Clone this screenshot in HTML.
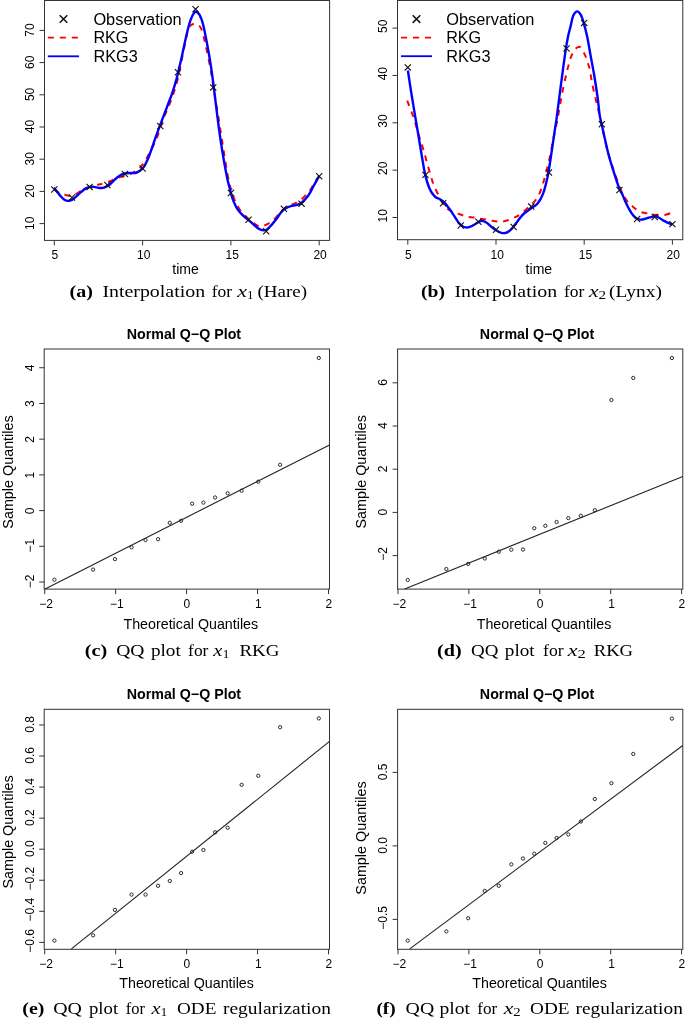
<!DOCTYPE html>
<html><head><meta charset="utf-8"><title>Figure</title>
<style>html,body{margin:0;padding:0;background:#fff;} svg{display:block;}</style></head>
<body><svg width="685" height="1020" viewBox="0 0 685 1020">
<rect width="685" height="1020" fill="#fff"/>
<rect x="44.50" y="0.50" width="285.10" height="239.90" stroke="#333" stroke-width="1" fill="none"/>
<line x1="54.30" y1="240.40" x2="54.30" y2="245.40" stroke="#333" stroke-width="1"/>
<text x="54.80" y="258.60" font-size="12" text-anchor="middle" font-family="'Liberation Sans', Arial, sans-serif" fill="#000">5</text>
<line x1="142.60" y1="240.40" x2="142.60" y2="245.40" stroke="#333" stroke-width="1"/>
<text x="143.80" y="258.60" font-size="12" text-anchor="middle" font-family="'Liberation Sans', Arial, sans-serif" fill="#000">10</text>
<line x1="230.90" y1="240.40" x2="230.90" y2="245.40" stroke="#333" stroke-width="1"/>
<text x="232.20" y="258.60" font-size="12" text-anchor="middle" font-family="'Liberation Sans', Arial, sans-serif" fill="#000">15</text>
<line x1="319.20" y1="240.40" x2="319.20" y2="245.40" stroke="#333" stroke-width="1"/>
<text x="320.10" y="258.60" font-size="12" text-anchor="middle" font-family="'Liberation Sans', Arial, sans-serif" fill="#000">20</text>
<line x1="39.50" y1="223.60" x2="44.50" y2="223.60" stroke="#333" stroke-width="1"/>
<text x="34.30" y="223.20" font-size="12" text-anchor="middle" font-family="'Liberation Sans', Arial, sans-serif" fill="#000" transform="rotate(-90 34.30 223.20)">10</text>
<line x1="39.50" y1="191.40" x2="44.50" y2="191.40" stroke="#333" stroke-width="1"/>
<text x="34.30" y="191.00" font-size="12" text-anchor="middle" font-family="'Liberation Sans', Arial, sans-serif" fill="#000" transform="rotate(-90 34.30 191.00)">20</text>
<line x1="39.50" y1="159.20" x2="44.50" y2="159.20" stroke="#333" stroke-width="1"/>
<text x="34.30" y="158.80" font-size="12" text-anchor="middle" font-family="'Liberation Sans', Arial, sans-serif" fill="#000" transform="rotate(-90 34.30 158.80)">30</text>
<line x1="39.50" y1="127.00" x2="44.50" y2="127.00" stroke="#333" stroke-width="1"/>
<text x="34.30" y="126.60" font-size="12" text-anchor="middle" font-family="'Liberation Sans', Arial, sans-serif" fill="#000" transform="rotate(-90 34.30 126.60)">40</text>
<line x1="39.50" y1="94.80" x2="44.50" y2="94.80" stroke="#333" stroke-width="1"/>
<text x="34.30" y="94.40" font-size="12" text-anchor="middle" font-family="'Liberation Sans', Arial, sans-serif" fill="#000" transform="rotate(-90 34.30 94.40)">50</text>
<line x1="39.50" y1="62.60" x2="44.50" y2="62.60" stroke="#333" stroke-width="1"/>
<text x="34.30" y="62.20" font-size="12" text-anchor="middle" font-family="'Liberation Sans', Arial, sans-serif" fill="#000" transform="rotate(-90 34.30 62.20)">60</text>
<line x1="39.50" y1="30.40" x2="44.50" y2="30.40" stroke="#333" stroke-width="1"/>
<text x="34.30" y="30.00" font-size="12" text-anchor="middle" font-family="'Liberation Sans', Arial, sans-serif" fill="#000" transform="rotate(-90 34.30 30.00)">70</text>
<text x="185.60" y="273.70" font-size="14" text-anchor="middle" font-family="'Liberation Sans', Arial, sans-serif" fill="#000" textLength="26.60" lengthAdjust="spacingAndGlyphs">time</text>
<path d="M54.30,189.60 C55.25,190.25 58.22,192.65 60.00,193.50 C61.78,194.35 63.00,194.33 65.00,194.70 C67.00,195.07 69.22,196.35 72.00,195.70 C74.78,195.05 78.72,192.25 81.70,190.80 C84.68,189.35 86.85,188.08 89.90,187.00 C92.95,185.92 97.73,184.88 100.00,184.30 C102.27,183.72 101.83,184.00 103.50,183.50 C105.17,183.00 108.25,181.97 110.00,181.30 C111.75,180.63 112.17,180.23 114.00,179.50 C115.83,178.77 118.95,177.55 121.00,176.90 C123.05,176.25 124.63,176.12 126.30,175.60 C127.97,175.08 129.62,174.47 131.00,173.80 C132.38,173.13 133.63,172.10 134.60,171.60 C135.57,171.10 135.98,171.32 136.80,170.80 C137.62,170.28 138.63,169.45 139.50,168.50 C140.37,167.55 141.13,166.18 142.00,165.10 C142.87,164.02 143.52,163.93 144.70,162.00 C145.88,160.07 147.35,156.87 149.10,153.50 C150.85,150.13 153.53,145.47 155.20,141.80 C156.87,138.13 157.72,135.38 159.10,131.50 C160.48,127.62 162.03,122.38 163.50,118.50 C164.97,114.62 166.32,112.12 167.90,108.20 C169.48,104.28 171.32,100.03 173.00,95.00 C174.68,89.97 176.42,84.50 178.00,78.00 C179.58,71.50 181.10,62.87 182.50,56.00 C183.90,49.13 185.30,41.60 186.40,36.80 C187.50,32.00 188.08,29.28 189.10,27.20 C190.12,25.12 191.28,24.83 192.50,24.30 C193.72,23.77 194.93,23.23 196.40,24.00 C197.87,24.77 199.75,25.32 201.30,28.90 C202.85,32.48 204.23,39.22 205.70,45.50 C207.17,51.78 208.93,60.47 210.10,66.60 C211.27,72.73 211.80,76.73 212.70,82.30 C213.60,87.87 214.53,94.05 215.50,100.00 C216.47,105.95 217.50,111.83 218.50,118.00 C219.50,124.17 220.47,130.43 221.50,137.00 C222.53,143.57 223.62,150.73 224.70,157.40 C225.78,164.07 227.07,172.07 228.00,177.00 C228.93,181.93 229.63,184.75 230.30,187.00 C230.97,189.25 231.35,188.53 232.00,190.50 C232.65,192.47 233.40,196.53 234.20,198.80 C235.00,201.07 235.85,202.27 236.80,204.10 C237.75,205.93 238.45,207.82 239.90,209.80 C241.35,211.78 243.65,214.13 245.50,216.00 C247.35,217.87 249.08,219.43 251.00,221.00 C252.92,222.57 255.05,224.57 257.00,225.40 C258.95,226.23 260.73,226.35 262.70,226.00 C264.67,225.65 267.05,224.25 268.80,223.30 C270.55,222.35 271.75,221.58 273.20,220.30 C274.65,219.02 276.33,216.93 277.50,215.60 C278.67,214.27 279.12,213.43 280.20,212.30 C281.28,211.17 282.70,209.78 284.00,208.80 C285.30,207.82 286.50,207.17 288.00,206.40 C289.50,205.63 291.42,204.93 293.00,204.20 C294.58,203.47 296.08,202.78 297.50,202.00 C298.92,201.22 299.97,200.85 301.50,199.50 C303.03,198.15 305.30,195.37 306.70,193.90 C308.10,192.43 308.75,192.30 309.90,190.70 C311.05,189.10 312.55,186.08 313.60,184.30 C314.65,182.52 315.27,181.33 316.20,180.00 C317.13,178.67 318.70,176.92 319.20,176.30" stroke="#ff0000" stroke-width="2" fill="none" stroke-dasharray="5.8 5.8"/>
<path d="M53.90,187.80 C54.48,188.52 56.23,190.65 57.40,192.10 C58.57,193.55 59.67,195.18 60.90,196.50 C62.13,197.82 63.57,199.27 64.80,200.00 C66.03,200.73 67.05,200.97 68.30,200.90 C69.55,200.83 70.92,200.40 72.30,199.60 C73.68,198.80 75.15,197.35 76.60,196.10 C78.05,194.85 79.53,193.35 81.00,192.10 C82.47,190.85 83.93,189.47 85.40,188.60 C86.87,187.73 88.33,187.18 89.80,186.90 C91.27,186.62 92.75,186.73 94.20,186.90 C95.65,187.07 97.05,187.75 98.50,187.90 C99.95,188.05 101.18,188.25 102.90,187.80 C104.62,187.35 107.10,186.28 108.80,185.20 C110.50,184.12 111.65,182.62 113.10,181.30 C114.55,179.98 116.03,178.45 117.50,177.30 C118.97,176.15 120.43,175.08 121.90,174.40 C123.37,173.72 124.85,173.43 126.30,173.20 C127.75,172.97 129.15,173.03 130.60,173.00 C132.05,172.97 133.68,173.23 135.00,173.00 C136.32,172.77 137.33,172.27 138.50,171.60 C139.67,170.93 140.97,170.02 142.00,169.00 C143.03,167.98 143.82,166.95 144.70,165.50 C145.58,164.05 146.50,162.05 147.30,160.30 C148.10,158.55 148.78,156.88 149.50,155.00 C150.22,153.12 150.65,151.75 151.60,149.00 C152.55,146.25 154.00,141.90 155.20,138.50 C156.40,135.10 157.68,131.62 158.80,128.60 C159.92,125.58 160.82,123.25 161.90,120.40 C162.98,117.55 164.17,114.48 165.30,111.50 C166.43,108.52 167.62,105.37 168.70,102.50 C169.78,99.63 170.88,96.92 171.80,94.30 C172.72,91.68 173.45,89.20 174.20,86.80 C174.95,84.40 175.67,82.20 176.30,79.90 C176.93,77.60 177.48,75.17 178.00,73.00 C178.52,70.83 178.88,69.07 179.40,66.90 C179.92,64.73 180.52,62.57 181.10,60.00 C181.68,57.43 181.87,56.25 182.90,51.50 C183.93,46.75 185.98,36.87 187.30,31.50 C188.62,26.13 189.63,22.45 190.80,19.30 C191.97,16.15 193.37,13.83 194.30,12.60 C195.23,11.37 195.52,11.52 196.40,11.90 C197.28,12.28 198.48,12.80 199.60,14.90 C200.72,17.00 201.80,19.40 203.10,24.50 C204.40,29.60 206.08,38.48 207.40,45.50 C208.72,52.52 209.97,59.88 211.00,66.60 C212.03,73.32 212.73,79.08 213.60,85.80 C214.47,92.52 215.30,99.70 216.20,106.90 C217.10,114.10 218.07,122.15 219.00,129.00 C219.93,135.85 220.85,142.00 221.80,148.00 C222.75,154.00 223.73,159.67 224.70,165.00 C225.67,170.33 226.82,176.33 227.60,180.00 C228.38,183.67 228.82,184.67 229.40,187.00 C229.98,189.33 230.37,191.52 231.10,194.00 C231.83,196.48 232.77,199.42 233.80,201.90 C234.83,204.38 236.00,206.85 237.30,208.90 C238.60,210.95 240.15,212.67 241.60,214.20 C243.05,215.73 244.53,216.87 246.00,218.10 C247.47,219.33 248.93,220.37 250.40,221.60 C251.87,222.83 253.33,224.27 254.80,225.50 C256.27,226.73 257.75,228.20 259.20,229.00 C260.65,229.80 262.20,230.22 263.50,230.30 C264.80,230.38 265.68,230.37 267.00,229.50 C268.32,228.63 269.80,226.88 271.40,225.10 C273.00,223.32 275.20,220.65 276.60,218.80 C278.00,216.95 278.60,215.53 279.80,214.00 C281.00,212.47 282.45,210.73 283.80,209.60 C285.15,208.47 286.55,207.83 287.90,207.20 C289.25,206.57 290.57,206.13 291.90,205.80 C293.23,205.47 294.57,205.57 295.90,205.20 C297.23,204.83 298.70,204.22 299.90,203.60 C301.10,202.98 301.90,202.58 303.10,201.50 C304.30,200.42 305.90,198.63 307.10,197.10 C308.30,195.57 309.22,194.17 310.30,192.30 C311.38,190.43 312.52,187.90 313.60,185.90 C314.68,183.90 315.88,181.92 316.80,180.30 C317.72,178.68 318.72,176.88 319.10,176.20" stroke="#0000ff" stroke-width="2.4" fill="none" stroke-linejoin="round"/>
<path d="M51.20,186.37L57.40,192.57M51.20,192.57L57.40,186.37" stroke="#111" stroke-width="1.1" fill="none"/>
<path d="M68.86,194.42L75.06,200.62M68.86,200.62L75.06,194.42" stroke="#111" stroke-width="1.1" fill="none"/>
<path d="M86.52,183.79L92.72,189.99M86.52,189.99L92.72,183.79" stroke="#111" stroke-width="1.1" fill="none"/>
<path d="M104.18,181.86L110.38,188.06M104.18,188.06L110.38,181.86" stroke="#111" stroke-width="1.1" fill="none"/>
<path d="M121.84,170.91L128.04,177.11M121.84,177.11L128.04,170.91" stroke="#111" stroke-width="1.1" fill="none"/>
<path d="M139.50,165.44L145.70,171.64M139.50,171.64L145.70,165.44" stroke="#111" stroke-width="1.1" fill="none"/>
<path d="M157.16,122.93L163.36,129.13M157.16,129.13L163.36,122.93" stroke="#111" stroke-width="1.1" fill="none"/>
<path d="M174.82,69.16L181.02,75.36M174.82,75.36L181.02,69.16" stroke="#111" stroke-width="1.1" fill="none"/>
<path d="M192.48,6.05L198.68,12.25M192.48,12.25L198.68,6.05" stroke="#111" stroke-width="1.1" fill="none"/>
<path d="M210.14,84.29L216.34,90.49M210.14,90.49L216.34,84.29" stroke="#111" stroke-width="1.1" fill="none"/>
<path d="M227.80,189.91L234.00,196.11M227.80,196.11L234.00,189.91" stroke="#111" stroke-width="1.1" fill="none"/>
<path d="M245.46,216.64L251.66,222.84M245.46,222.84L251.66,216.64" stroke="#111" stroke-width="1.1" fill="none"/>
<path d="M263.12,228.23L269.32,234.43M263.12,234.43L269.32,228.23" stroke="#111" stroke-width="1.1" fill="none"/>
<path d="M280.78,205.69L286.98,211.89M280.78,211.89L286.98,205.69" stroke="#111" stroke-width="1.1" fill="none"/>
<path d="M298.44,200.54L304.64,206.74M298.44,206.74L304.64,200.54" stroke="#111" stroke-width="1.1" fill="none"/>
<path d="M316.10,173.17L322.30,179.37M316.10,179.37L322.30,173.17" stroke="#111" stroke-width="1.1" fill="none"/>
<path d="M59.70,15.20L67.30,22.80M59.70,22.80L67.30,15.20" stroke="#111" stroke-width="1.5" fill="none"/>
<line x1="47.8" y1="37.7" x2="78" y2="37.7" stroke="#ff0000" stroke-width="1.8" stroke-dasharray="6.1 5.9"/>
<line x1="47.80" y1="56.30" x2="79.00" y2="56.30" stroke="#0000ff" stroke-width="1.8"/>
<text x="93.40" y="24.60" font-size="16" text-anchor="start" font-family="'Liberation Sans', Arial, sans-serif" fill="#000" textLength="88.20" lengthAdjust="spacingAndGlyphs">Observation</text>
<text x="93.40" y="43.00" font-size="16" text-anchor="start" font-family="'Liberation Sans', Arial, sans-serif" fill="#000" textLength="35.00" lengthAdjust="spacingAndGlyphs">RKG</text>
<text x="93.40" y="61.60" font-size="16" text-anchor="start" font-family="'Liberation Sans', Arial, sans-serif" fill="#000" textLength="44.30" lengthAdjust="spacingAndGlyphs">RKG3</text>
<rect x="397.50" y="0.50" width="285.30" height="239.20" stroke="#333" stroke-width="1" fill="none"/>
<line x1="407.80" y1="239.70" x2="407.80" y2="244.70" stroke="#333" stroke-width="1"/>
<text x="408.30" y="258.60" font-size="12" text-anchor="middle" font-family="'Liberation Sans', Arial, sans-serif" fill="#000">5</text>
<line x1="496.00" y1="239.70" x2="496.00" y2="244.70" stroke="#333" stroke-width="1"/>
<text x="497.20" y="258.60" font-size="12" text-anchor="middle" font-family="'Liberation Sans', Arial, sans-serif" fill="#000">10</text>
<line x1="584.20" y1="239.70" x2="584.20" y2="244.70" stroke="#333" stroke-width="1"/>
<text x="585.50" y="258.60" font-size="12" text-anchor="middle" font-family="'Liberation Sans', Arial, sans-serif" fill="#000">15</text>
<line x1="672.40" y1="239.70" x2="672.40" y2="244.70" stroke="#333" stroke-width="1"/>
<text x="673.30" y="258.60" font-size="12" text-anchor="middle" font-family="'Liberation Sans', Arial, sans-serif" fill="#000">20</text>
<line x1="392.50" y1="217.50" x2="397.50" y2="217.50" stroke="#333" stroke-width="1"/>
<text x="387.20" y="215.70" font-size="12" text-anchor="middle" font-family="'Liberation Sans', Arial, sans-serif" fill="#000" transform="rotate(-90 387.20 215.70)">10</text>
<line x1="392.50" y1="170.15" x2="397.50" y2="170.15" stroke="#333" stroke-width="1"/>
<text x="387.20" y="168.35" font-size="12" text-anchor="middle" font-family="'Liberation Sans', Arial, sans-serif" fill="#000" transform="rotate(-90 387.20 168.35)">20</text>
<line x1="392.50" y1="122.80" x2="397.50" y2="122.80" stroke="#333" stroke-width="1"/>
<text x="387.20" y="121.00" font-size="12" text-anchor="middle" font-family="'Liberation Sans', Arial, sans-serif" fill="#000" transform="rotate(-90 387.20 121.00)">30</text>
<line x1="392.50" y1="75.45" x2="397.50" y2="75.45" stroke="#333" stroke-width="1"/>
<text x="387.20" y="73.65" font-size="12" text-anchor="middle" font-family="'Liberation Sans', Arial, sans-serif" fill="#000" transform="rotate(-90 387.20 73.65)">40</text>
<line x1="392.50" y1="28.10" x2="397.50" y2="28.10" stroke="#333" stroke-width="1"/>
<text x="387.20" y="26.30" font-size="12" text-anchor="middle" font-family="'Liberation Sans', Arial, sans-serif" fill="#000" transform="rotate(-90 387.20 26.30)">50</text>
<text x="538.90" y="273.70" font-size="14" text-anchor="middle" font-family="'Liberation Sans', Arial, sans-serif" fill="#000" textLength="26.60" lengthAdjust="spacingAndGlyphs">time</text>
<path d="M407.20,100.60 C408.30,103.53 411.83,112.33 413.80,118.20 C415.77,124.07 417.38,130.50 419.00,135.80 C420.62,141.10 422.02,145.00 423.50,150.00 C424.98,155.00 426.28,160.22 427.90,165.80 C429.52,171.38 431.30,178.35 433.20,183.50 C435.10,188.65 437.38,192.88 439.30,196.70 C441.22,200.52 442.92,204.10 444.70,206.40 C446.48,208.70 448.25,209.43 450.00,210.50 C451.75,211.57 453.17,212.03 455.20,212.80 C457.23,213.57 460.17,214.42 462.20,215.10 C464.23,215.78 465.45,216.48 467.40,216.90 C469.35,217.32 471.95,217.32 473.90,217.60 C475.85,217.88 477.17,218.30 479.10,218.60 C481.03,218.90 483.45,219.07 485.50,219.40 C487.55,219.73 489.45,220.25 491.40,220.60 C493.35,220.95 495.25,221.35 497.20,221.50 C499.15,221.65 501.15,221.78 503.10,221.50 C505.05,221.22 506.97,220.48 508.90,219.80 C510.83,219.12 512.85,218.28 514.70,217.40 C516.55,216.52 517.60,216.28 520.00,214.50 C522.40,212.72 526.13,209.60 529.10,206.70 C532.07,203.80 535.47,201.03 537.80,197.10 C540.13,193.17 541.50,188.07 543.10,183.10 C544.70,178.13 546.08,172.57 547.40,167.30 C548.72,162.03 549.97,156.47 551.00,151.50 C552.03,146.53 552.53,142.75 553.60,137.50 C554.67,132.25 556.57,124.07 557.40,120.00 C558.23,115.93 558.07,116.08 558.60,113.10 C559.13,110.12 559.93,105.77 560.60,102.10 C561.27,98.43 561.82,95.03 562.60,91.10 C563.38,87.17 564.52,82.07 565.30,78.50 C566.08,74.93 566.72,72.03 567.30,69.70 C567.88,67.37 568.27,66.43 568.80,64.50 C569.33,62.57 569.87,59.95 570.50,58.10 C571.13,56.25 571.75,54.98 572.60,53.40 C573.45,51.82 574.62,49.68 575.60,48.60 C576.58,47.52 577.57,47.03 578.50,46.90 C579.43,46.77 580.25,46.72 581.20,47.80 C582.15,48.88 583.35,51.68 584.20,53.40 C585.05,55.12 585.62,56.25 586.30,58.10 C586.98,59.95 587.72,62.60 588.30,64.50 C588.88,66.40 589.13,66.23 589.80,69.50 C590.47,72.77 591.18,78.60 592.30,84.10 C593.42,89.60 595.48,98.18 596.50,102.50 C597.52,106.82 597.72,107.08 598.40,110.00 C599.08,112.92 599.70,115.83 600.60,120.00 C601.50,124.17 602.68,130.00 603.80,135.00 C604.92,140.00 606.05,145.33 607.30,150.00 C608.55,154.67 609.97,158.83 611.30,163.00 C612.63,167.17 613.80,170.75 615.30,175.00 C616.80,179.25 618.97,185.20 620.30,188.50 C621.63,191.80 621.95,192.38 623.30,194.80 C624.65,197.22 627.03,201.22 628.40,203.00 C629.77,204.78 630.13,204.40 631.50,205.50 C632.87,206.60 634.90,208.48 636.60,209.60 C638.30,210.72 639.83,211.57 641.70,212.20 C643.57,212.83 645.77,212.98 647.80,213.40 C649.83,213.82 651.87,214.38 653.90,214.70 C655.93,215.02 658.03,215.30 660.00,215.30 C661.97,215.30 663.65,215.15 665.70,214.70 C667.75,214.25 671.20,212.95 672.30,212.60" stroke="#ff0000" stroke-width="2" fill="none" stroke-dasharray="5.8 5.8"/>
<path d="M407.90,70.50 C408.43,74.03 409.98,84.63 411.10,91.70 C412.22,98.77 413.42,105.83 414.60,112.90 C415.78,119.97 417.02,127.05 418.20,134.10 C419.38,141.15 420.53,148.45 421.70,155.20 C422.87,161.95 423.88,169.02 425.20,174.60 C426.52,180.18 427.98,185.02 429.60,188.70 C431.22,192.38 433.17,194.93 434.90,196.70 C436.63,198.47 438.37,198.28 440.00,199.30 C441.63,200.32 443.15,201.23 444.70,202.80 C446.25,204.37 447.75,206.55 449.30,208.70 C450.85,210.85 452.43,213.37 454.00,215.70 C455.57,218.03 457.13,220.85 458.70,222.70 C460.27,224.55 461.85,226.02 463.40,226.80 C464.95,227.58 466.45,227.60 468.00,227.40 C469.55,227.20 471.13,226.38 472.70,225.60 C474.27,224.82 475.85,223.48 477.40,222.70 C478.95,221.92 480.45,220.90 482.00,220.90 C483.55,220.90 485.13,221.72 486.70,222.70 C488.27,223.68 489.83,225.53 491.40,226.80 C492.97,228.07 494.55,229.33 496.10,230.30 C497.65,231.27 499.15,232.15 500.70,232.60 C502.25,233.05 503.83,233.38 505.40,233.00 C506.97,232.62 508.55,231.63 510.10,230.30 C511.65,228.97 513.05,227.05 514.70,225.00 C516.35,222.95 518.45,219.92 520.00,218.00 C521.55,216.08 522.20,215.08 524.00,213.50 C525.80,211.92 528.50,210.22 530.80,208.50 C533.10,206.78 535.75,205.68 537.80,203.20 C539.85,200.72 541.50,197.83 543.10,193.60 C544.70,189.37 546.23,183.07 547.40,177.80 C548.57,172.53 549.22,167.55 550.10,162.00 C550.98,156.45 551.88,150.03 552.70,144.50 C553.52,138.97 554.38,132.88 555.00,128.80 C555.62,124.72 555.70,125.12 556.40,120.00 C557.10,114.88 558.23,105.55 559.20,98.10 C560.17,90.65 561.18,82.88 562.20,75.30 C563.22,67.72 564.33,59.02 565.30,52.60 C566.27,46.18 567.12,41.18 568.00,36.80 C568.88,32.42 569.73,29.80 570.60,26.30 C571.47,22.80 572.12,18.28 573.20,15.80 C574.28,13.32 575.83,11.55 577.10,11.40 C578.37,11.25 579.70,13.00 580.80,14.90 C581.90,16.80 582.63,19.15 583.70,22.80 C584.77,26.45 586.03,31.25 587.20,36.80 C588.37,42.35 589.53,49.68 590.70,56.10 C591.87,62.52 593.03,68.30 594.20,75.30 C595.37,82.30 596.80,91.55 597.70,98.10 C598.60,104.65 598.92,110.15 599.60,114.60 C600.28,119.05 600.95,120.90 601.80,124.80 C602.65,128.70 603.60,133.13 604.70,138.00 C605.80,142.87 607.07,148.90 608.40,154.00 C609.73,159.10 610.90,162.90 612.70,168.60 C614.50,174.30 617.60,183.92 619.20,188.20 C620.80,192.48 621.28,192.08 622.30,194.30 C623.32,196.52 624.12,198.95 625.30,201.50 C626.48,204.05 628.03,207.22 629.40,209.60 C630.77,211.98 632.22,214.27 633.50,215.80 C634.78,217.33 635.90,218.17 637.10,218.80 C638.30,219.43 639.43,219.57 640.70,219.60 C641.97,219.63 643.17,219.38 644.70,219.00 C646.23,218.62 648.18,217.75 649.90,217.30 C651.62,216.85 653.47,216.22 655.00,216.30 C656.53,216.38 657.57,217.03 659.10,217.80 C660.63,218.57 662.50,219.97 664.20,220.90 C665.90,221.83 667.90,222.82 669.30,223.40 C670.70,223.98 672.05,224.23 672.60,224.40" stroke="#0000ff" stroke-width="2.4" fill="none" stroke-linejoin="round"/>
<path d="M404.70,64.30L410.90,70.50M404.70,70.50L410.90,64.30" stroke="#111" stroke-width="1.1" fill="none"/>
<path d="M422.34,171.78L428.54,177.98M422.34,177.98L428.54,171.78" stroke="#111" stroke-width="1.1" fill="none"/>
<path d="M439.98,200.20L446.18,206.40M439.98,206.40L446.18,200.20" stroke="#111" stroke-width="1.1" fill="none"/>
<path d="M457.62,222.45L463.82,228.65M457.62,228.65L463.82,222.45" stroke="#111" stroke-width="1.1" fill="none"/>
<path d="M475.26,218.66L481.46,224.86M475.26,224.86L481.46,218.66" stroke="#111" stroke-width="1.1" fill="none"/>
<path d="M492.90,226.71L499.10,232.91M492.90,232.91L499.10,226.71" stroke="#111" stroke-width="1.1" fill="none"/>
<path d="M510.54,223.87L516.74,230.07M510.54,230.07L516.74,223.87" stroke="#111" stroke-width="1.1" fill="none"/>
<path d="M528.18,203.51L534.38,209.71M528.18,209.71L534.38,203.51" stroke="#111" stroke-width="1.1" fill="none"/>
<path d="M545.82,169.42L552.02,175.62M545.82,175.62L552.02,169.42" stroke="#111" stroke-width="1.1" fill="none"/>
<path d="M563.46,45.36L569.66,51.56M563.46,51.56L569.66,45.36" stroke="#111" stroke-width="1.1" fill="none"/>
<path d="M581.10,19.79L587.30,25.99M581.10,25.99L587.30,19.79" stroke="#111" stroke-width="1.1" fill="none"/>
<path d="M598.74,121.12L604.94,127.32M598.74,127.32L604.94,121.12" stroke="#111" stroke-width="1.1" fill="none"/>
<path d="M616.38,186.94L622.58,193.14M616.38,193.14L622.58,186.94" stroke="#111" stroke-width="1.1" fill="none"/>
<path d="M634.02,215.82L640.22,222.02M634.02,222.02L640.22,215.82" stroke="#111" stroke-width="1.1" fill="none"/>
<path d="M651.66,213.93L657.86,220.13M651.66,220.13L657.86,213.93" stroke="#111" stroke-width="1.1" fill="none"/>
<path d="M669.30,221.03L675.50,227.23M669.30,227.23L675.50,221.03" stroke="#111" stroke-width="1.1" fill="none"/>
<path d="M412.70,15.30L420.30,22.90M412.70,22.90L420.30,15.30" stroke="#111" stroke-width="1.5" fill="none"/>
<line x1="401" y1="37.7" x2="431.2" y2="37.7" stroke="#ff0000" stroke-width="1.8" stroke-dasharray="6.1 5.9"/>
<line x1="401.00" y1="56.20" x2="432.00" y2="56.20" stroke="#0000ff" stroke-width="1.8"/>
<text x="446.20" y="24.60" font-size="16" text-anchor="start" font-family="'Liberation Sans', Arial, sans-serif" fill="#000" textLength="88.20" lengthAdjust="spacingAndGlyphs">Observation</text>
<text x="446.20" y="43.00" font-size="16" text-anchor="start" font-family="'Liberation Sans', Arial, sans-serif" fill="#000" textLength="35.00" lengthAdjust="spacingAndGlyphs">RKG</text>
<text x="446.20" y="61.60" font-size="16" text-anchor="start" font-family="'Liberation Sans', Arial, sans-serif" fill="#000" textLength="44.30" lengthAdjust="spacingAndGlyphs">RKG3</text>
<rect x="44.20" y="349.00" width="285.30" height="240.10" stroke="#333" stroke-width="1" fill="none"/>
<text x="183.90" y="338.60" font-size="14.2" text-anchor="middle" font-family="'Liberation Sans', Arial, sans-serif" fill="#000" font-weight="bold" textLength="114.40" lengthAdjust="spacingAndGlyphs">Normal Q&#8722;Q Plot</text>
<line x1="44.70" y1="589.10" x2="44.70" y2="594.10" stroke="#333" stroke-width="1"/>
<text x="46.00" y="607.50" font-size="12" text-anchor="middle" font-family="'Liberation Sans', Arial, sans-serif" fill="#000">&#8722;2</text>
<line x1="115.65" y1="589.10" x2="115.65" y2="594.10" stroke="#333" stroke-width="1"/>
<text x="116.95" y="607.50" font-size="12" text-anchor="middle" font-family="'Liberation Sans', Arial, sans-serif" fill="#000">&#8722;1</text>
<line x1="186.60" y1="589.10" x2="186.60" y2="594.10" stroke="#333" stroke-width="1"/>
<text x="186.90" y="607.50" font-size="12" text-anchor="middle" font-family="'Liberation Sans', Arial, sans-serif" fill="#000">0</text>
<line x1="257.55" y1="589.10" x2="257.55" y2="594.10" stroke="#333" stroke-width="1"/>
<text x="258.35" y="607.50" font-size="12" text-anchor="middle" font-family="'Liberation Sans', Arial, sans-serif" fill="#000">1</text>
<line x1="328.50" y1="589.10" x2="328.50" y2="594.10" stroke="#333" stroke-width="1"/>
<text x="328.80" y="607.50" font-size="12" text-anchor="middle" font-family="'Liberation Sans', Arial, sans-serif" fill="#000">2</text>
<line x1="39.20" y1="582.04" x2="44.20" y2="582.04" stroke="#333" stroke-width="1"/>
<text x="33.60" y="581.34" font-size="12" text-anchor="middle" font-family="'Liberation Sans', Arial, sans-serif" fill="#000" transform="rotate(-90 33.60 581.34)">&#8722;2</text>
<line x1="39.20" y1="546.32" x2="44.20" y2="546.32" stroke="#333" stroke-width="1"/>
<text x="33.60" y="545.62" font-size="12" text-anchor="middle" font-family="'Liberation Sans', Arial, sans-serif" fill="#000" transform="rotate(-90 33.60 545.62)">&#8722;1</text>
<line x1="39.20" y1="510.60" x2="44.20" y2="510.60" stroke="#333" stroke-width="1"/>
<text x="33.60" y="510.90" font-size="12" text-anchor="middle" font-family="'Liberation Sans', Arial, sans-serif" fill="#000" transform="rotate(-90 33.60 510.90)">0</text>
<line x1="39.20" y1="474.88" x2="44.20" y2="474.88" stroke="#333" stroke-width="1"/>
<text x="33.60" y="475.18" font-size="12" text-anchor="middle" font-family="'Liberation Sans', Arial, sans-serif" fill="#000" transform="rotate(-90 33.60 475.18)">1</text>
<line x1="39.20" y1="439.16" x2="44.20" y2="439.16" stroke="#333" stroke-width="1"/>
<text x="33.60" y="439.46" font-size="12" text-anchor="middle" font-family="'Liberation Sans', Arial, sans-serif" fill="#000" transform="rotate(-90 33.60 439.46)">2</text>
<line x1="39.20" y1="403.44" x2="44.20" y2="403.44" stroke="#333" stroke-width="1"/>
<text x="33.60" y="403.74" font-size="12" text-anchor="middle" font-family="'Liberation Sans', Arial, sans-serif" fill="#000" transform="rotate(-90 33.60 403.74)">3</text>
<line x1="39.20" y1="367.72" x2="44.20" y2="367.72" stroke="#333" stroke-width="1"/>
<text x="33.60" y="368.02" font-size="12" text-anchor="middle" font-family="'Liberation Sans', Arial, sans-serif" fill="#000" transform="rotate(-90 33.60 368.02)">4</text>
<text x="190.80" y="629.40" font-size="14.4" text-anchor="middle" font-family="'Liberation Sans', Arial, sans-serif" fill="#000" textLength="134.60" lengthAdjust="spacingAndGlyphs">Theoretical Quantiles</text>
<text x="13.30" y="472.00" font-size="14.4" text-anchor="middle" font-family="'Liberation Sans', Arial, sans-serif" fill="#000" transform="rotate(-90 13.30 472.00)" textLength="113.30" lengthAdjust="spacingAndGlyphs">Sample Quantiles</text>
<line x1="45.10" y1="588.90" x2="329.50" y2="444.95" stroke="#222" stroke-width="1.1"/>
<circle cx="54.42" cy="579.70" r="1.65" stroke="#222" stroke-width="0.95" fill="none"/>
<circle cx="93.09" cy="569.60" r="1.65" stroke="#222" stroke-width="0.95" fill="none"/>
<circle cx="114.94" cy="559.10" r="1.65" stroke="#222" stroke-width="0.95" fill="none"/>
<circle cx="131.54" cy="547.30" r="1.65" stroke="#222" stroke-width="0.95" fill="none"/>
<circle cx="145.52" cy="540.10" r="1.65" stroke="#222" stroke-width="0.95" fill="none"/>
<circle cx="158.08" cy="539.20" r="1.65" stroke="#222" stroke-width="0.95" fill="none"/>
<circle cx="169.78" cy="522.80" r="1.65" stroke="#222" stroke-width="0.95" fill="none"/>
<circle cx="181.07" cy="520.80" r="1.65" stroke="#222" stroke-width="0.95" fill="none"/>
<circle cx="192.13" cy="503.70" r="1.65" stroke="#222" stroke-width="0.95" fill="none"/>
<circle cx="203.42" cy="502.60" r="1.65" stroke="#222" stroke-width="0.95" fill="none"/>
<circle cx="215.12" cy="497.50" r="1.65" stroke="#222" stroke-width="0.95" fill="none"/>
<circle cx="227.68" cy="493.30" r="1.65" stroke="#222" stroke-width="0.95" fill="none"/>
<circle cx="241.66" cy="490.70" r="1.65" stroke="#222" stroke-width="0.95" fill="none"/>
<circle cx="258.26" cy="481.70" r="1.65" stroke="#222" stroke-width="0.95" fill="none"/>
<circle cx="280.11" cy="464.80" r="1.65" stroke="#222" stroke-width="0.95" fill="none"/>
<circle cx="318.78" cy="358.00" r="1.65" stroke="#222" stroke-width="0.95" fill="none"/>
<rect x="397.60" y="349.00" width="285.20" height="240.10" stroke="#333" stroke-width="1" fill="none"/>
<text x="537.05" y="338.60" font-size="14.2" text-anchor="middle" font-family="'Liberation Sans', Arial, sans-serif" fill="#000" font-weight="bold" textLength="114.40" lengthAdjust="spacingAndGlyphs">Normal Q&#8722;Q Plot</text>
<line x1="398.00" y1="589.10" x2="398.00" y2="594.10" stroke="#333" stroke-width="1"/>
<text x="399.30" y="607.50" font-size="12" text-anchor="middle" font-family="'Liberation Sans', Arial, sans-serif" fill="#000">&#8722;2</text>
<line x1="468.90" y1="589.10" x2="468.90" y2="594.10" stroke="#333" stroke-width="1"/>
<text x="470.20" y="607.50" font-size="12" text-anchor="middle" font-family="'Liberation Sans', Arial, sans-serif" fill="#000">&#8722;1</text>
<line x1="539.80" y1="589.10" x2="539.80" y2="594.10" stroke="#333" stroke-width="1"/>
<text x="540.10" y="607.50" font-size="12" text-anchor="middle" font-family="'Liberation Sans', Arial, sans-serif" fill="#000">0</text>
<line x1="610.70" y1="589.10" x2="610.70" y2="594.10" stroke="#333" stroke-width="1"/>
<text x="611.50" y="607.50" font-size="12" text-anchor="middle" font-family="'Liberation Sans', Arial, sans-serif" fill="#000">1</text>
<line x1="681.60" y1="589.10" x2="681.60" y2="594.10" stroke="#333" stroke-width="1"/>
<text x="681.90" y="607.50" font-size="12" text-anchor="middle" font-family="'Liberation Sans', Arial, sans-serif" fill="#000">2</text>
<line x1="392.60" y1="555.60" x2="397.60" y2="555.60" stroke="#333" stroke-width="1"/>
<text x="387.00" y="554.00" font-size="12" text-anchor="middle" font-family="'Liberation Sans', Arial, sans-serif" fill="#000" transform="rotate(-90 387.00 554.00)">&#8722;2</text>
<line x1="392.60" y1="512.40" x2="397.60" y2="512.40" stroke="#333" stroke-width="1"/>
<text x="387.00" y="512.10" font-size="12" text-anchor="middle" font-family="'Liberation Sans', Arial, sans-serif" fill="#000" transform="rotate(-90 387.00 512.10)">0</text>
<line x1="392.60" y1="469.20" x2="397.60" y2="469.20" stroke="#333" stroke-width="1"/>
<text x="387.00" y="468.90" font-size="12" text-anchor="middle" font-family="'Liberation Sans', Arial, sans-serif" fill="#000" transform="rotate(-90 387.00 468.90)">2</text>
<line x1="392.60" y1="426.00" x2="397.60" y2="426.00" stroke="#333" stroke-width="1"/>
<text x="387.00" y="425.70" font-size="12" text-anchor="middle" font-family="'Liberation Sans', Arial, sans-serif" fill="#000" transform="rotate(-90 387.00 425.70)">4</text>
<line x1="392.60" y1="382.80" x2="397.60" y2="382.80" stroke="#333" stroke-width="1"/>
<text x="387.00" y="382.50" font-size="12" text-anchor="middle" font-family="'Liberation Sans', Arial, sans-serif" fill="#000" transform="rotate(-90 387.00 382.50)">6</text>
<text x="544.00" y="629.40" font-size="14.4" text-anchor="middle" font-family="'Liberation Sans', Arial, sans-serif" fill="#000" textLength="134.60" lengthAdjust="spacingAndGlyphs">Theoretical Quantiles</text>
<text x="366.20" y="471.80" font-size="14.4" text-anchor="middle" font-family="'Liberation Sans', Arial, sans-serif" fill="#000" transform="rotate(-90 366.20 471.80)" textLength="113.30" lengthAdjust="spacingAndGlyphs">Sample Quantiles</text>
<line x1="404.70" y1="588.90" x2="682.80" y2="476.48" stroke="#222" stroke-width="1.1"/>
<circle cx="407.71" cy="579.90" r="1.65" stroke="#222" stroke-width="0.95" fill="none"/>
<circle cx="446.35" cy="569.00" r="1.65" stroke="#222" stroke-width="0.95" fill="none"/>
<circle cx="468.19" cy="563.90" r="1.65" stroke="#222" stroke-width="0.95" fill="none"/>
<circle cx="484.78" cy="558.50" r="1.65" stroke="#222" stroke-width="0.95" fill="none"/>
<circle cx="498.75" cy="551.70" r="1.65" stroke="#222" stroke-width="0.95" fill="none"/>
<circle cx="511.30" cy="549.70" r="1.65" stroke="#222" stroke-width="0.95" fill="none"/>
<circle cx="523.00" cy="549.50" r="1.65" stroke="#222" stroke-width="0.95" fill="none"/>
<circle cx="534.27" cy="528.20" r="1.65" stroke="#222" stroke-width="0.95" fill="none"/>
<circle cx="545.33" cy="525.80" r="1.65" stroke="#222" stroke-width="0.95" fill="none"/>
<circle cx="556.60" cy="522.00" r="1.65" stroke="#222" stroke-width="0.95" fill="none"/>
<circle cx="568.30" cy="518.10" r="1.65" stroke="#222" stroke-width="0.95" fill="none"/>
<circle cx="580.85" cy="515.80" r="1.65" stroke="#222" stroke-width="0.95" fill="none"/>
<circle cx="594.82" cy="510.20" r="1.65" stroke="#222" stroke-width="0.95" fill="none"/>
<circle cx="611.41" cy="400.00" r="1.65" stroke="#222" stroke-width="0.95" fill="none"/>
<circle cx="633.25" cy="377.90" r="1.65" stroke="#222" stroke-width="0.95" fill="none"/>
<circle cx="671.89" cy="358.00" r="1.65" stroke="#222" stroke-width="0.95" fill="none"/>
<rect x="44.20" y="709.30" width="285.30" height="240.00" stroke="#333" stroke-width="1" fill="none"/>
<text x="183.90" y="698.60" font-size="14.2" text-anchor="middle" font-family="'Liberation Sans', Arial, sans-serif" fill="#000" font-weight="bold" textLength="114.40" lengthAdjust="spacingAndGlyphs">Normal Q&#8722;Q Plot</text>
<line x1="44.70" y1="949.30" x2="44.70" y2="954.30" stroke="#333" stroke-width="1"/>
<text x="46.00" y="967.70" font-size="12" text-anchor="middle" font-family="'Liberation Sans', Arial, sans-serif" fill="#000">&#8722;2</text>
<line x1="115.65" y1="949.30" x2="115.65" y2="954.30" stroke="#333" stroke-width="1"/>
<text x="116.95" y="967.70" font-size="12" text-anchor="middle" font-family="'Liberation Sans', Arial, sans-serif" fill="#000">&#8722;1</text>
<line x1="186.60" y1="949.30" x2="186.60" y2="954.30" stroke="#333" stroke-width="1"/>
<text x="186.90" y="967.70" font-size="12" text-anchor="middle" font-family="'Liberation Sans', Arial, sans-serif" fill="#000">0</text>
<line x1="257.55" y1="949.30" x2="257.55" y2="954.30" stroke="#333" stroke-width="1"/>
<text x="258.35" y="967.70" font-size="12" text-anchor="middle" font-family="'Liberation Sans', Arial, sans-serif" fill="#000">1</text>
<line x1="328.50" y1="949.30" x2="328.50" y2="954.30" stroke="#333" stroke-width="1"/>
<text x="328.80" y="967.70" font-size="12" text-anchor="middle" font-family="'Liberation Sans', Arial, sans-serif" fill="#000">2</text>
<line x1="39.20" y1="942.38" x2="44.20" y2="942.38" stroke="#333" stroke-width="1"/>
<text x="33.60" y="940.78" font-size="12" text-anchor="middle" font-family="'Liberation Sans', Arial, sans-serif" fill="#000" transform="rotate(-90 33.60 940.78)">&#8722;0.6</text>
<line x1="39.20" y1="911.32" x2="44.20" y2="911.32" stroke="#333" stroke-width="1"/>
<text x="33.60" y="909.72" font-size="12" text-anchor="middle" font-family="'Liberation Sans', Arial, sans-serif" fill="#000" transform="rotate(-90 33.60 909.72)">&#8722;0.4</text>
<line x1="39.20" y1="880.26" x2="44.20" y2="880.26" stroke="#333" stroke-width="1"/>
<text x="33.60" y="878.66" font-size="12" text-anchor="middle" font-family="'Liberation Sans', Arial, sans-serif" fill="#000" transform="rotate(-90 33.60 878.66)">&#8722;0.2</text>
<line x1="39.20" y1="849.20" x2="44.20" y2="849.20" stroke="#333" stroke-width="1"/>
<text x="33.60" y="848.60" font-size="12" text-anchor="middle" font-family="'Liberation Sans', Arial, sans-serif" fill="#000" transform="rotate(-90 33.60 848.60)">0.0</text>
<line x1="39.20" y1="818.14" x2="44.20" y2="818.14" stroke="#333" stroke-width="1"/>
<text x="33.60" y="817.54" font-size="12" text-anchor="middle" font-family="'Liberation Sans', Arial, sans-serif" fill="#000" transform="rotate(-90 33.60 817.54)">0.2</text>
<line x1="39.20" y1="787.08" x2="44.20" y2="787.08" stroke="#333" stroke-width="1"/>
<text x="33.60" y="786.48" font-size="12" text-anchor="middle" font-family="'Liberation Sans', Arial, sans-serif" fill="#000" transform="rotate(-90 33.60 786.48)">0.4</text>
<line x1="39.20" y1="756.02" x2="44.20" y2="756.02" stroke="#333" stroke-width="1"/>
<text x="33.60" y="755.42" font-size="12" text-anchor="middle" font-family="'Liberation Sans', Arial, sans-serif" fill="#000" transform="rotate(-90 33.60 755.42)">0.6</text>
<line x1="39.20" y1="724.96" x2="44.20" y2="724.96" stroke="#333" stroke-width="1"/>
<text x="33.60" y="724.36" font-size="12" text-anchor="middle" font-family="'Liberation Sans', Arial, sans-serif" fill="#000" transform="rotate(-90 33.60 724.36)">0.8</text>
<text x="186.60" y="987.70" font-size="14.4" text-anchor="middle" font-family="'Liberation Sans', Arial, sans-serif" fill="#000" textLength="134.60" lengthAdjust="spacingAndGlyphs">Theoretical Quantiles</text>
<text x="13.30" y="831.90" font-size="14.4" text-anchor="middle" font-family="'Liberation Sans', Arial, sans-serif" fill="#000" transform="rotate(-90 13.30 831.90)" textLength="113.30" lengthAdjust="spacingAndGlyphs">Sample Quantiles</text>
<line x1="71.40" y1="948.90" x2="329.50" y2="741.40" stroke="#222" stroke-width="1.1"/>
<circle cx="54.42" cy="940.60" r="1.65" stroke="#222" stroke-width="0.95" fill="none"/>
<circle cx="93.09" cy="935.30" r="1.65" stroke="#222" stroke-width="0.95" fill="none"/>
<circle cx="114.94" cy="909.90" r="1.65" stroke="#222" stroke-width="0.95" fill="none"/>
<circle cx="131.54" cy="894.60" r="1.65" stroke="#222" stroke-width="0.95" fill="none"/>
<circle cx="145.52" cy="894.60" r="1.65" stroke="#222" stroke-width="0.95" fill="none"/>
<circle cx="158.08" cy="885.80" r="1.65" stroke="#222" stroke-width="0.95" fill="none"/>
<circle cx="169.78" cy="881.00" r="1.65" stroke="#222" stroke-width="0.95" fill="none"/>
<circle cx="181.07" cy="873.10" r="1.65" stroke="#222" stroke-width="0.95" fill="none"/>
<circle cx="192.13" cy="851.70" r="1.65" stroke="#222" stroke-width="0.95" fill="none"/>
<circle cx="203.42" cy="850.00" r="1.65" stroke="#222" stroke-width="0.95" fill="none"/>
<circle cx="215.12" cy="832.30" r="1.65" stroke="#222" stroke-width="0.95" fill="none"/>
<circle cx="227.68" cy="827.70" r="1.65" stroke="#222" stroke-width="0.95" fill="none"/>
<circle cx="241.66" cy="784.80" r="1.65" stroke="#222" stroke-width="0.95" fill="none"/>
<circle cx="258.26" cy="775.80" r="1.65" stroke="#222" stroke-width="0.95" fill="none"/>
<circle cx="280.11" cy="727.20" r="1.65" stroke="#222" stroke-width="0.95" fill="none"/>
<circle cx="318.78" cy="718.40" r="1.65" stroke="#222" stroke-width="0.95" fill="none"/>
<rect x="397.60" y="709.30" width="285.20" height="240.00" stroke="#333" stroke-width="1" fill="none"/>
<text x="537.05" y="698.60" font-size="14.2" text-anchor="middle" font-family="'Liberation Sans', Arial, sans-serif" fill="#000" font-weight="bold" textLength="114.40" lengthAdjust="spacingAndGlyphs">Normal Q&#8722;Q Plot</text>
<line x1="398.00" y1="949.30" x2="398.00" y2="954.30" stroke="#333" stroke-width="1"/>
<text x="399.30" y="967.70" font-size="12" text-anchor="middle" font-family="'Liberation Sans', Arial, sans-serif" fill="#000">&#8722;2</text>
<line x1="468.90" y1="949.30" x2="468.90" y2="954.30" stroke="#333" stroke-width="1"/>
<text x="470.20" y="967.70" font-size="12" text-anchor="middle" font-family="'Liberation Sans', Arial, sans-serif" fill="#000">&#8722;1</text>
<line x1="539.80" y1="949.30" x2="539.80" y2="954.30" stroke="#333" stroke-width="1"/>
<text x="540.10" y="967.70" font-size="12" text-anchor="middle" font-family="'Liberation Sans', Arial, sans-serif" fill="#000">0</text>
<line x1="610.70" y1="949.30" x2="610.70" y2="954.30" stroke="#333" stroke-width="1"/>
<text x="611.50" y="967.70" font-size="12" text-anchor="middle" font-family="'Liberation Sans', Arial, sans-serif" fill="#000">1</text>
<line x1="681.60" y1="949.30" x2="681.60" y2="954.30" stroke="#333" stroke-width="1"/>
<text x="681.90" y="967.70" font-size="12" text-anchor="middle" font-family="'Liberation Sans', Arial, sans-serif" fill="#000">2</text>
<line x1="392.60" y1="919.40" x2="397.60" y2="919.40" stroke="#333" stroke-width="1"/>
<text x="387.00" y="917.80" font-size="12" text-anchor="middle" font-family="'Liberation Sans', Arial, sans-serif" fill="#000" transform="rotate(-90 387.00 917.80)">&#8722;0.5</text>
<line x1="392.60" y1="845.90" x2="397.60" y2="845.90" stroke="#333" stroke-width="1"/>
<text x="387.00" y="845.30" font-size="12" text-anchor="middle" font-family="'Liberation Sans', Arial, sans-serif" fill="#000" transform="rotate(-90 387.00 845.30)">0.0</text>
<line x1="392.60" y1="772.40" x2="397.60" y2="772.40" stroke="#333" stroke-width="1"/>
<text x="387.00" y="771.80" font-size="12" text-anchor="middle" font-family="'Liberation Sans', Arial, sans-serif" fill="#000" transform="rotate(-90 387.00 771.80)">0.5</text>
<text x="539.60" y="987.70" font-size="14.4" text-anchor="middle" font-family="'Liberation Sans', Arial, sans-serif" fill="#000" textLength="134.60" lengthAdjust="spacingAndGlyphs">Theoretical Quantiles</text>
<text x="366.20" y="838.00" font-size="14.4" text-anchor="middle" font-family="'Liberation Sans', Arial, sans-serif" fill="#000" transform="rotate(-90 366.20 838.00)" textLength="113.30" lengthAdjust="spacingAndGlyphs">Sample Quantiles</text>
<line x1="409.70" y1="948.90" x2="682.80" y2="745.45" stroke="#222" stroke-width="1.1"/>
<circle cx="407.71" cy="940.60" r="1.65" stroke="#222" stroke-width="0.95" fill="none"/>
<circle cx="446.35" cy="931.40" r="1.65" stroke="#222" stroke-width="0.95" fill="none"/>
<circle cx="468.19" cy="918.20" r="1.65" stroke="#222" stroke-width="0.95" fill="none"/>
<circle cx="484.78" cy="890.90" r="1.65" stroke="#222" stroke-width="0.95" fill="none"/>
<circle cx="498.75" cy="885.80" r="1.65" stroke="#222" stroke-width="0.95" fill="none"/>
<circle cx="511.30" cy="864.40" r="1.65" stroke="#222" stroke-width="0.95" fill="none"/>
<circle cx="523.00" cy="858.50" r="1.65" stroke="#222" stroke-width="0.95" fill="none"/>
<circle cx="534.27" cy="853.70" r="1.65" stroke="#222" stroke-width="0.95" fill="none"/>
<circle cx="545.33" cy="842.90" r="1.65" stroke="#222" stroke-width="0.95" fill="none"/>
<circle cx="556.60" cy="838.00" r="1.65" stroke="#222" stroke-width="0.95" fill="none"/>
<circle cx="568.30" cy="834.50" r="1.65" stroke="#222" stroke-width="0.95" fill="none"/>
<circle cx="580.85" cy="821.50" r="1.65" stroke="#222" stroke-width="0.95" fill="none"/>
<circle cx="594.82" cy="799.00" r="1.65" stroke="#222" stroke-width="0.95" fill="none"/>
<circle cx="611.41" cy="783.20" r="1.65" stroke="#222" stroke-width="0.95" fill="none"/>
<circle cx="633.25" cy="753.90" r="1.65" stroke="#222" stroke-width="0.95" fill="none"/>
<circle cx="671.89" cy="718.60" r="1.65" stroke="#222" stroke-width="0.95" fill="none"/>
<text x="69.50" y="296.60" font-family="'Liberation Serif', 'Times New Roman', serif" font-size="17.6" font-weight="bold" textLength="23.40" lengthAdjust="spacingAndGlyphs" fill="#000">(a)</text>
<text x="102.40" y="296.60" font-family="'Liberation Serif', 'Times New Roman', serif" font-size="17.6" textLength="102.70" lengthAdjust="spacingAndGlyphs" fill="#000">Interpolation</text>
<text x="211.80" y="296.60" font-family="'Liberation Serif', 'Times New Roman', serif" font-size="17.6" textLength="20.30" lengthAdjust="spacingAndGlyphs" fill="#000">for</text>
<text x="237.20" y="296.60" font-family="'Liberation Serif', 'Times New Roman', serif" font-size="17.6" font-style="italic" textLength="9.80" lengthAdjust="spacingAndGlyphs" fill="#000">x</text>
<text x="247.20" y="298.80" font-family="'Liberation Serif', 'Times New Roman', serif" font-size="13.5" textLength="6.10" lengthAdjust="spacingAndGlyphs" fill="#000">1</text>
<text x="257.40" y="296.60" font-family="'Liberation Serif', 'Times New Roman', serif" font-size="17.6" textLength="49.60" lengthAdjust="spacingAndGlyphs" fill="#000">(Hare)</text>
<text x="421.00" y="296.60" font-family="'Liberation Serif', 'Times New Roman', serif" font-size="17.6" font-weight="bold" textLength="24.00" lengthAdjust="spacingAndGlyphs" fill="#000">(b)</text>
<text x="454.40" y="296.60" font-family="'Liberation Serif', 'Times New Roman', serif" font-size="17.6" textLength="102.70" lengthAdjust="spacingAndGlyphs" fill="#000">Interpolation</text>
<text x="564.00" y="296.60" font-family="'Liberation Serif', 'Times New Roman', serif" font-size="17.6" textLength="20.30" lengthAdjust="spacingAndGlyphs" fill="#000">for</text>
<text x="589.00" y="296.60" font-family="'Liberation Serif', 'Times New Roman', serif" font-size="17.6" font-style="italic" textLength="9.60" lengthAdjust="spacingAndGlyphs" fill="#000">x</text>
<text x="598.50" y="298.80" font-family="'Liberation Serif', 'Times New Roman', serif" font-size="13.5" textLength="7.60" lengthAdjust="spacingAndGlyphs" fill="#000">2</text>
<text x="609.10" y="296.60" font-family="'Liberation Serif', 'Times New Roman', serif" font-size="17.6" textLength="52.80" lengthAdjust="spacingAndGlyphs" fill="#000">(Lynx)</text>
<text x="84.80" y="655.90" font-family="'Liberation Serif', 'Times New Roman', serif" font-size="17.6" font-weight="bold" textLength="22.50" lengthAdjust="spacingAndGlyphs" fill="#000">(c)</text>
<text x="116.20" y="655.90" font-family="'Liberation Serif', 'Times New Roman', serif" font-size="17.6" textLength="28.30" lengthAdjust="spacingAndGlyphs" fill="#000">QQ</text>
<text x="150.90" y="655.90" font-family="'Liberation Serif', 'Times New Roman', serif" font-size="17.6" textLength="29.90" lengthAdjust="spacingAndGlyphs" fill="#000">plot</text>
<text x="188.10" y="655.90" font-family="'Liberation Serif', 'Times New Roman', serif" font-size="17.6" textLength="20.30" lengthAdjust="spacingAndGlyphs" fill="#000">for</text>
<text x="213.20" y="655.90" font-family="'Liberation Serif', 'Times New Roman', serif" font-size="17.6" font-style="italic" textLength="9.10" lengthAdjust="spacingAndGlyphs" fill="#000">x</text>
<text x="222.70" y="658.10" font-family="'Liberation Serif', 'Times New Roman', serif" font-size="13.5" textLength="6.60" lengthAdjust="spacingAndGlyphs" fill="#000">1</text>
<text x="239.40" y="655.90" font-family="'Liberation Serif', 'Times New Roman', serif" font-size="17.6" textLength="40.00" lengthAdjust="spacingAndGlyphs" fill="#000">RKG</text>
<text x="437.10" y="655.90" font-family="'Liberation Serif', 'Times New Roman', serif" font-size="17.6" font-weight="bold" textLength="24.60" lengthAdjust="spacingAndGlyphs" fill="#000">(d)</text>
<text x="471.10" y="655.90" font-family="'Liberation Serif', 'Times New Roman', serif" font-size="17.6" textLength="27.40" lengthAdjust="spacingAndGlyphs" fill="#000">QQ</text>
<text x="504.80" y="655.90" font-family="'Liberation Serif', 'Times New Roman', serif" font-size="17.6" textLength="29.90" lengthAdjust="spacingAndGlyphs" fill="#000">plot</text>
<text x="543.10" y="655.90" font-family="'Liberation Serif', 'Times New Roman', serif" font-size="17.6" textLength="20.60" lengthAdjust="spacingAndGlyphs" fill="#000">for</text>
<text x="567.70" y="655.90" font-family="'Liberation Serif', 'Times New Roman', serif" font-size="17.6" font-style="italic" textLength="9.80" lengthAdjust="spacingAndGlyphs" fill="#000">x</text>
<text x="577.60" y="658.10" font-family="'Liberation Serif', 'Times New Roman', serif" font-size="13.5" textLength="8.30" lengthAdjust="spacingAndGlyphs" fill="#000">2</text>
<text x="593.70" y="655.90" font-family="'Liberation Serif', 'Times New Roman', serif" font-size="17.6" textLength="39.40" lengthAdjust="spacingAndGlyphs" fill="#000">RKG</text>
<text x="22.30" y="1013.50" font-family="'Liberation Serif', 'Times New Roman', serif" font-size="17.6" font-weight="bold" textLength="22.10" lengthAdjust="spacingAndGlyphs" fill="#000">(e)</text>
<text x="53.20" y="1013.50" font-family="'Liberation Serif', 'Times New Roman', serif" font-size="17.6" textLength="28.70" lengthAdjust="spacingAndGlyphs" fill="#000">QQ</text>
<text x="89.00" y="1013.50" font-family="'Liberation Serif', 'Times New Roman', serif" font-size="17.6" textLength="29.10" lengthAdjust="spacingAndGlyphs" fill="#000">plot</text>
<text x="125.70" y="1013.50" font-family="'Liberation Serif', 'Times New Roman', serif" font-size="17.6" textLength="19.20" lengthAdjust="spacingAndGlyphs" fill="#000">for</text>
<text x="151.40" y="1013.50" font-family="'Liberation Serif', 'Times New Roman', serif" font-size="17.6" font-style="italic" textLength="9.10" lengthAdjust="spacingAndGlyphs" fill="#000">x</text>
<text x="160.70" y="1015.70" font-family="'Liberation Serif', 'Times New Roman', serif" font-size="13.5" textLength="6.40" lengthAdjust="spacingAndGlyphs" fill="#000">1</text>
<text x="177.00" y="1013.50" font-family="'Liberation Serif', 'Times New Roman', serif" font-size="17.6" textLength="39.40" lengthAdjust="spacingAndGlyphs" fill="#000">ODE</text>
<text x="223.00" y="1013.50" font-family="'Liberation Serif', 'Times New Roman', serif" font-size="17.6" textLength="107.90" lengthAdjust="spacingAndGlyphs" fill="#000">regularization</text>
<text x="376.40" y="1013.50" font-family="'Liberation Serif', 'Times New Roman', serif" font-size="17.6" font-weight="bold" textLength="19.30" lengthAdjust="spacingAndGlyphs" fill="#000">(f)</text>
<text x="405.60" y="1013.50" font-family="'Liberation Serif', 'Times New Roman', serif" font-size="17.6" textLength="28.60" lengthAdjust="spacingAndGlyphs" fill="#000">QQ</text>
<text x="439.40" y="1013.50" font-family="'Liberation Serif', 'Times New Roman', serif" font-size="17.6" textLength="30.50" lengthAdjust="spacingAndGlyphs" fill="#000">plot</text>
<text x="477.30" y="1013.50" font-family="'Liberation Serif', 'Times New Roman', serif" font-size="17.6" textLength="20.00" lengthAdjust="spacingAndGlyphs" fill="#000">for</text>
<text x="503.70" y="1013.50" font-family="'Liberation Serif', 'Times New Roman', serif" font-size="17.6" font-style="italic" textLength="9.60" lengthAdjust="spacingAndGlyphs" fill="#000">x</text>
<text x="513.20" y="1015.70" font-family="'Liberation Serif', 'Times New Roman', serif" font-size="13.5" textLength="7.40" lengthAdjust="spacingAndGlyphs" fill="#000">2</text>
<text x="530.10" y="1013.50" font-family="'Liberation Serif', 'Times New Roman', serif" font-size="17.6" textLength="39.50" lengthAdjust="spacingAndGlyphs" fill="#000">ODE</text>
<text x="575.60" y="1013.50" font-family="'Liberation Serif', 'Times New Roman', serif" font-size="17.6" textLength="107.20" lengthAdjust="spacingAndGlyphs" fill="#000">regularization</text>
</svg></body></html>
